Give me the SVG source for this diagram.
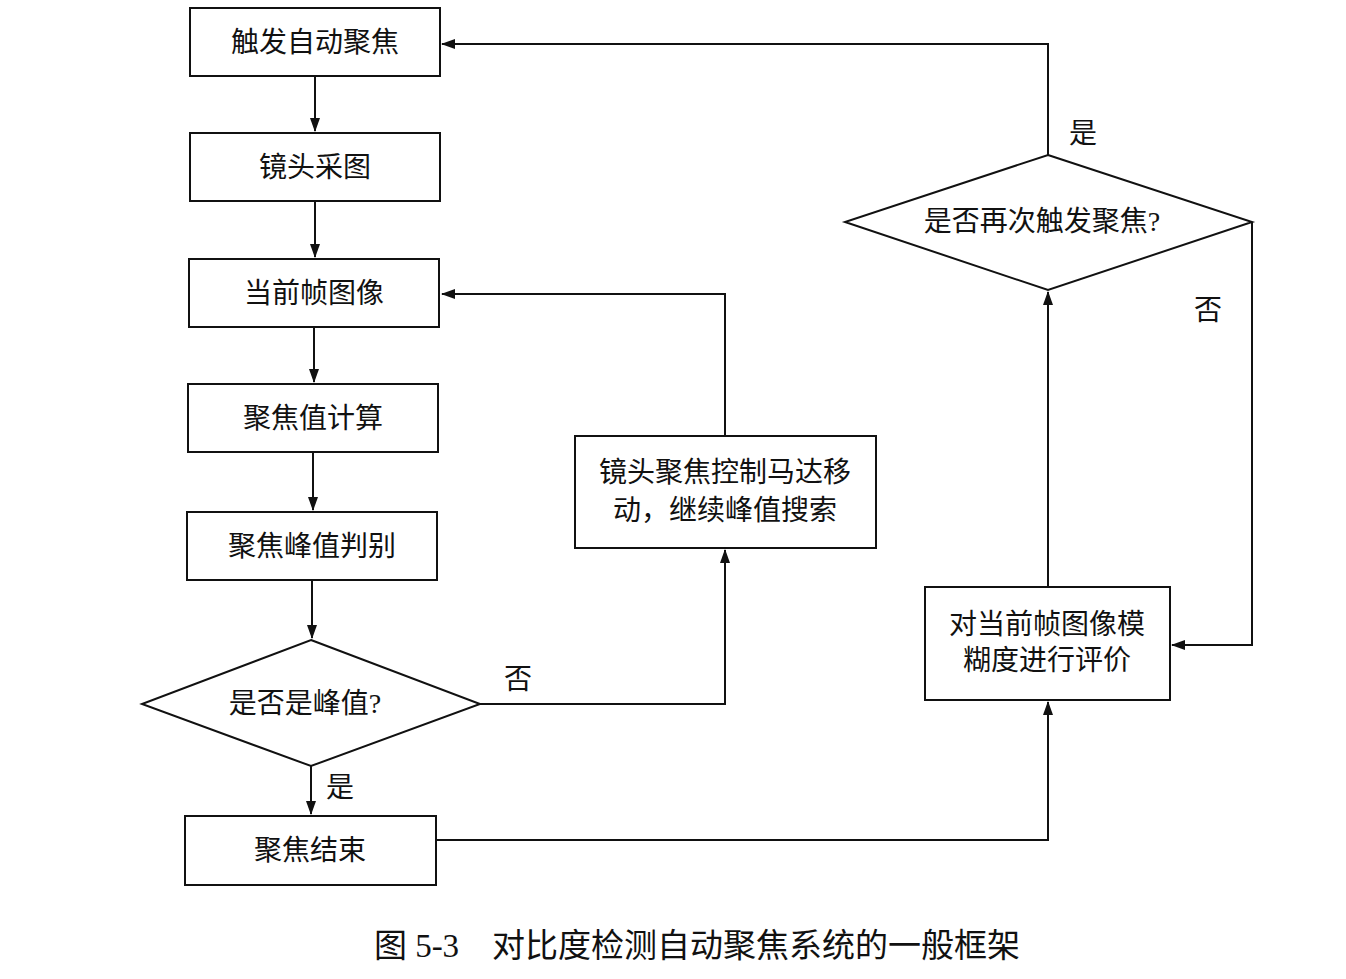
<svg xmlns="http://www.w3.org/2000/svg" width="1346" height="979" viewBox="0 0 1346 979">
<style>
.b{fill:#fff;stroke:#111;stroke-width:2}
.t{font-family:"Liberation Serif","Noto Sans CJK SC",serif;font-size:28px;fill:#111;text-anchor:middle;dominant-baseline:central}
.c{fill:none;stroke:#111;stroke-width:2;marker-end:url(#a)}
</style>
<defs><marker id="a" markerWidth="14" markerHeight="10" refX="13" refY="5" orient="auto" markerUnits="userSpaceOnUse"><path d="M0,0L14,5L0,10Z" fill="#111"/></marker></defs>
<rect width="1346" height="979" fill="#fff"/>
<g id="connectors">
<path class="c" d="M315,76V131"/>
<path class="c" d="M315,201V257"/>
<path class="c" d="M314,327V382"/>
<path class="c" d="M313,452V510"/>
<path class="c" d="M312,580V638"/>
<path class="c" d="M311,766V814"/>
<path class="c" d="M480,704H725V550"/>
<path class="c" d="M725,436V294H442"/>
<path class="c" d="M436,840H1048V702"/>
<path class="c" d="M1048,587V292"/>
<path class="c" d="M1048,155V44H442"/>
<path class="c" d="M1252,222V645H1172"/>
<text class="t" x="518" y="679">否</text>
<text class="t" x="340" y="787">是</text>
<text class="t" x="1083" y="133">是</text>
<text class="t" x="1208" y="310">否</text>
</g>
<g id="n1"><rect class="b" x="190" y="8" width="250" height="68"/><text class="t" x="315" y="42">触发自动聚焦</text></g>
<g id="n2"><rect class="b" x="190" y="133" width="250" height="68"/><text class="t" x="315" y="167">镜头采图</text></g>
<g id="n3"><rect class="b" x="189" y="259" width="250" height="68"/><text class="t" x="314" y="293">当前帧图像</text></g>
<g id="n4"><rect class="b" x="188" y="384" width="250" height="68"/><text class="t" x="313" y="418">聚焦值计算</text></g>
<g id="n5"><rect class="b" x="187" y="512" width="250" height="68"/><text class="t" x="312" y="546">聚焦峰值判别</text></g>
<g id="d1"><polygon class="b" points="311,640 480,704 311,766 142,704"/><text class="t" x="305" y="703">是否是峰值?</text></g>
<g id="n6"><rect class="b" x="185" y="816" width="251" height="69"/><text class="t" x="310" y="850">聚焦结束</text></g>
<g id="n7"><rect class="b" x="575" y="436" width="301" height="112"/><text class="t" x="725" y="472">镜头聚焦控制马达移</text><text class="t" x="725" y="510">动，继续峰值搜索</text></g>
<g id="n8"><rect class="b" x="925" y="587" width="245" height="113"/><text class="t" x="1047" y="624">对当前帧图像模</text><text class="t" x="1047" y="660">糊度进行评价</text></g>
<g id="d2"><polygon class="b" points="1048,155 1252,222 1048,290 845,222"/><text class="t" x="1042" y="221">是否再次触发聚焦?</text></g>
<text class="t" x="697" y="946" style="font-size:33px">图 5-3　对比度检测自动聚焦系统的一般框架</text>
</svg>
